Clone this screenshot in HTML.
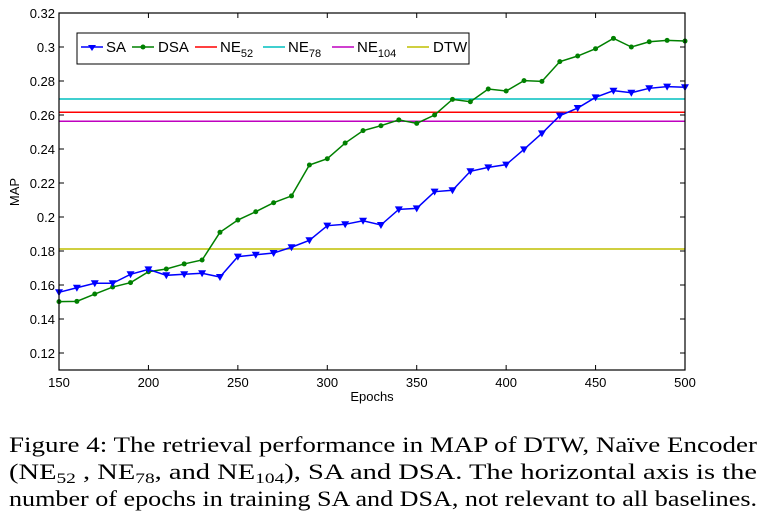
<!DOCTYPE html>
<html><head><meta charset="utf-8"><style>
body{margin:0;background:#fff;}
svg{display:block;}
text{font-family:"Liberation Sans",sans-serif;}
.cap{font-family:"Liberation Serif",serif;font-size:22px;fill:#000;}
</style></head><body>
<svg id="chart" width="768" height="518" viewBox="0 0 768 518">
<g id="plot"></g>
<g id="caption">
<text class="cap" x="9" y="452" textLength="748" lengthAdjust="spacingAndGlyphs">Figure 4: The retrieval performance in MAP of DTW, Naïve Encoder</text>
<text class="cap" x="9" y="479" textLength="748" lengthAdjust="spacingAndGlyphs">(NE<tspan font-size="15" dy="4">52</tspan><tspan dy="-4"> , NE</tspan><tspan font-size="15" dy="4">78</tspan><tspan dy="-4">, and NE</tspan><tspan font-size="15" dy="4">104</tspan><tspan dy="-4">), SA and DSA. The horizontal axis is the</tspan></text>
<text class="cap" x="9" y="506" textLength="748" lengthAdjust="spacingAndGlyphs">number of epochs in training SA and DSA, not relevant to all baselines.</text>
</g>
</svg>
<script>
const epochs=[150,160,170,180,190,200,210,220,230,240,250,260,270,280,290,300,310,320,330,340,350,360,370,380,390,400,410,420,430,440,450,460,470,480,490,500];
const saValues=[0.1557,0.1584,0.161,0.161,0.1663,0.1692,0.1657,0.1663,0.1669,0.1647,0.1767,0.1778,0.1788,0.1822,0.1863,0.1949,0.1957,0.1978,0.1953,0.2045,0.2051,0.2149,0.2157,0.2269,0.2292,0.2308,0.2398,0.2492,0.2596,0.2641,0.2704,0.2743,0.2731,0.2757,0.2767,0.2763];
const dsaValues=[0.1502,0.1504,0.1547,0.1588,0.1614,0.1678,0.1694,0.1724,0.1747,0.191,0.1982,0.2031,0.2084,0.2124,0.2306,0.2343,0.2435,0.2508,0.2537,0.2571,0.2551,0.26,0.2692,0.2678,0.2753,0.2741,0.2802,0.2798,0.2914,0.2947,0.299,0.3051,0.3,0.3031,0.3039,0.3035];
const baselineNames=["NE52","NE78","NE104","DTW"];
const baselineValues=[0.2616,0.2694,0.2563,0.1812];
const xTicks=[150,200,250,300,350,400,450,500];
const yTicks=[0.12,0.14,0.16,0.18,0.2,0.22,0.24,0.26,0.28,0.3,0.32];
const yTickLabels=["0.12","0.14","0.16","0.18","0.2","0.22","0.24","0.26","0.28","0.3","0.32"];

const NS="http://www.w3.org/2000/svg";
const L=59,R=685,T=13,B=370;
const x=v=>L+(v-150)/(500-150)*(R-L);
const y=v=>47+(0.3-v)*1700;
const g=document.getElementById('plot');
function mk(tag,attrs,parent){const e=document.createElementNS(NS,tag);for(const k in attrs)e.setAttribute(k,attrs[k]);(parent||g).appendChild(e);return e;}

// baselines
const blColors={"NE52":"#ff0000","NE78":"#00bfbf","NE104":"#bf00bf","DTW":"#bfbf00"};
baselineNames.forEach((n,i)=>{
  const l=mk('line',{x1:L,x2:R,y1:y(baselineValues[i]),y2:y(baselineValues[i]),stroke:blColors[n],'stroke-width':1.5});
  
  
});

// DSA
const dsaG=mk('g',{});


mk('polyline',{points:epochs.map((e,i)=>x(e)+','+y(dsaValues[i])).join(' '),fill:'none',stroke:'#008000','stroke-width':1.5},dsaG);
epochs.forEach((e,i)=>{
  const c=mk('circle',{cx:x(e),cy:y(dsaValues[i]),r:2.5,fill:'#008000'},dsaG);
  
  
});
// SA
const saG=mk('g',{});


mk('polyline',{points:epochs.map((e,i)=>x(e)+','+y(saValues[i])).join(' '),fill:'none',stroke:'#0000ff','stroke-width':1.5},saG);
epochs.forEach((e,i)=>{
  const px=x(e),py=y(saValues[i]);
  const p=mk('polygon',{points:`${px-4},${py-3} ${px+4},${py-3} ${px},${py+4}`,fill:'#0000ff'},saG);
  
  
});

// axes box
const box=mk('rect',{x:L,y:T,width:R-L,height:B-T,fill:'none',stroke:'#000','stroke-width':1.2});


xTicks.forEach(t=>{
  mk('line',{x1:x(t),x2:x(t),y1:B,y2:B-5,stroke:'#000'});
  mk('line',{x1:x(t),x2:x(t),y1:T,y2:T+5,stroke:'#000'});
  const tx=mk('text',{x:x(t),y:387,'text-anchor':'middle','font-size':13});
  tx.textContent=t;
  
  
});
yTicks.forEach((t,i)=>{
  mk('line',{x1:L,x2:L+5,y1:y(t),y2:y(t),stroke:'#000'});
  mk('line',{x1:R,x2:R-5,y1:y(t),y2:y(t),stroke:'#000'});
  const tx=mk('text',{x:L-4,y:y(t)+5,'text-anchor':'end','font-size':13});
  tx.textContent=yTickLabels[i];
  
  
});
const xt=mk('text',{x:372,y:401,'text-anchor':'middle','font-size':13});
xt.textContent='Epochs';


const yt=mk('text',{x:19,y:192,'text-anchor':'middle','font-size':13,transform:'rotate(-90 19 192)'});
yt.textContent='MAP';



// legend
const lg=mk('g',{});


mk('rect',{x:77,y:33,width:392,height:31,fill:'#fff',stroke:'#000','stroke-width':1},lg);
const items=[["SA","#0000ff",81,106,""],["DSA","#008000",132,158,""],["NE","#ff0000",195,220,"52"],["NE","#00bfbf",263,288,"78"],["NE","#bf00bf",332,357,"104"],["DTW","#bfbf00",407,433,""]];
items.forEach((it,i)=>{
  const ig=mk('g',{},lg);
  
  
  mk('line',{x1:it[2],x2:it[2]+22,y1:47,y2:47,stroke:it[1],'stroke-width':1.5},ig);
  if(i===0)mk('polygon',{points:`${it[2]+7},${45} ${it[2]+15},${45} ${it[2]+11},${51}`,fill:it[1]},ig);
  if(i===1)mk('circle',{cx:it[2]+11,cy:47,r:2.5,fill:it[1]},ig);
  const t=mk('text',{x:it[3],y:52,'font-size':15},ig);
  t.textContent=it[0];
  if(it[4]){const s=mk('tspan',{'font-size':11,dy:5},t);s.textContent=it[4];}
});
</script>
</body></html>
